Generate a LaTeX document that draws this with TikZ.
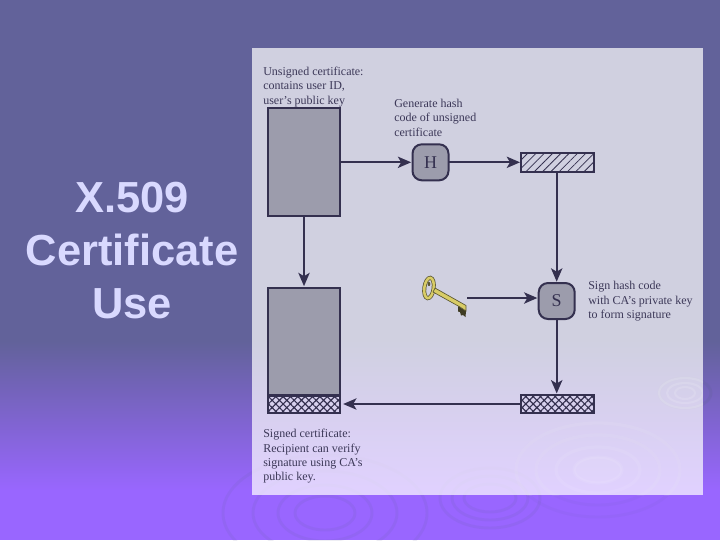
\documentclass[tikz,border=0pt]{standalone}
\usepackage{fontspec}
\setmainfont{Liberation Serif}
\newfontfamily\titlefont{Liberation Sans}
\usetikzlibrary{arrows.meta,patterns.meta,calc}
\definecolor{bgtop}{HTML}{62629A}
\definecolor{bgbot}{HTML}{9966FF}
\definecolor{ink}{HTML}{34304F}
\definecolor{txt}{HTML}{3C3858}
\definecolor{boxgray}{HTML}{9C9CAC}
\definecolor{titlec}{HTML}{D9D9FF}
\definecolor{keygold}{HTML}{D8CC66}
\definecolor{keydark}{HTML}{5A5632}
\tikzset{
  x=0.75pt,y=-0.75pt,
  cert/.style={draw=ink,line width=1.5pt,fill=boxgray,minimum width=54.5pt,minimum height=81pt,inner sep=0pt,outer sep=0pt},
  band/.style={draw=ink,line width=1.5pt,minimum width=54.5pt,minimum height=13.8pt,inner sep=0pt,outer sep=0pt},
  hashband/.style={band,pattern={Lines[angle=45,distance=4.4pt,line width=.6pt]},pattern color=ink},
  crossband/.style={band,pattern={Hatch[angle=45,distance=3.9pt,line width=.85pt]},pattern color=ink},
  opbox/.style={draw=ink,line width=1.5pt,fill=boxgray,rounded corners=7pt,minimum size=27pt,inner sep=0pt,outer sep=0pt,text=ink,font=\fontsize{13.5pt}{14pt}\selectfont},
  lab/.style={anchor=north west,align=left,inner sep=0pt,text=txt,font=\fontsize{9pt}{10.8pt}\selectfont},
  flow/.style={draw=ink,line width=1.4pt,shorten >=1pt,-{Stealth[length=10pt,width=8.5pt,inset=2.5pt]}},
  rippledark/.style={draw=bgtop,opacity=.11,line width=2.2pt},
  ripplelight/.style={draw=white,opacity=.08,line width=2.4pt},
}
\begin{document}
\begin{tikzpicture}
\useasboundingbox (0,0) rectangle (720,540);
% background
\fill[bgtop] (0,0) rectangle (720,342);
\shade[top color=bgtop,bottom color=bgbot,shading angle=0] (0,341) rectangle (720,491);
\fill[bgbot] (0,490) rectangle (720,540);
% ripples under the panel
\foreach \r/\s in {102/58,72/42,47/28,30/17}{\draw[rippledark] (325,513) ellipse ({\r*0.75pt} and {\s*0.75pt});}
\foreach \r/\s in {50/30,38/22,26/14}{\draw[rippledark] (490,498) ellipse ({\r*0.75pt} and {\s*0.75pt});}
\foreach \r/\s in {82/47,62/35}{\draw[rippledark,opacity=.06] (598,470) ellipse ({\r*0.75pt} and {\s*0.75pt});}
\draw[rippledark,opacity=.25] (685,393) ellipse (19.5pt and 11.5pt);
% panel
\fill[white,opacity=.7] (252,48) rectangle (703,495);
% light ripples
\begin{scope}
\clip (252,48) rectangle (703,495);
\foreach \r/\s in {82/47,62/35,42/23,24/13}{\draw[ripplelight] (598,470) ellipse ({\r*0.75pt} and {\s*0.75pt});}
\fill[white,opacity=.08] (598,470) ellipse (18pt and 10pt);
\foreach \r/\s in {26/15,18/10,10/6}{\draw[ripplelight,line width=1.6pt,opacity=.13] (685,393) ellipse ({\r*0.75pt} and {\s*0.75pt});}
\end{scope}
% title
\node[name=title,align=center,inner sep=0pt,text=titlec,font=\titlefont\bfseries\fontsize{32.6pt}{39.75pt}\selectfont] at (132,251) {X.509\\Certificate\\Use};
% boxes
\node[cert] (unsigned) at (304,162.3) {};
\node[cert] (signedbody) at (304,341.5) {};
\node[crossband] (signedsig) at (304,404) {};
\node[opbox] (H) at (430.5,162.3) {H};
\node[hashband] (hash) at (557.7,162.3) {};
\node[opbox] (S) at (556.7,301) {S};
\node[crossband] (sig) at (557.7,404) {};
% key
\coordinate (keyend) at (467,298);
\draw[keydark,line width=3pt,rotate around={-8:(429,288)}] (429,288) ellipse (3.5pt and 7.7pt);
\draw[keygold,line width=1.9pt,rotate around={-8:(429,288)}] (429,288) ellipse (3.5pt and 7.7pt);
\fill[keydark] (429,284) ellipse (1pt and 1.6pt);
\draw[fill=keydark!70!black,draw=none] (458,306) -- (466,311) -- (465.5,317) -- (463,315) -- (461,315.5) -- (460,312) -- (458,311.5) -- cycle;
\draw[fill=keygold,draw=keydark,line width=.5pt] (433,292) -- (435,288) -- (466,305.5) -- (466,311) -- (460,307) -- cycle;
% connectors
\draw[flow] (unsigned.east) -- (H.west);
\draw[flow] (H.east) -- (hash.west);
\draw[flow] (S.north |- hash.south) -- (S.north);
\draw[flow] (keyend) -- (S.west |- keyend);
\draw[flow] (S.south) -- (S.south |- sig.north);
\draw[flow] (sig.west) -- ($(signedsig.east)+(1.5,0)$);
\draw[flow] (unsigned.south) -- (signedbody.north);
% labels
\node[lab] (l1) at (263,66.5) {Unsigned certificate:\\contains user ID,\\user's public key};
\node[lab] (l2) at (394,99) {Generate hash\\code of unsigned\\certificate};
\node[lab] (l3) at (588,281) {Sign hash code\\with CA's private key\\to form signature};
\node[lab] (l4) at (263,429) {Signed certificate:\\Recipient can verify\\signature using CA's\\public key.};
\end{tikzpicture}
\end{document}
